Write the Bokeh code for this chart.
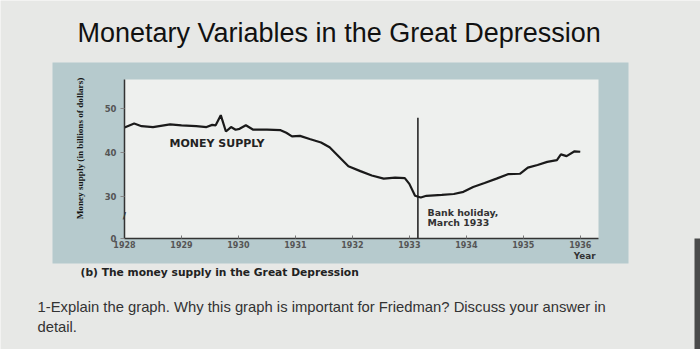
from bokeh.plotting import figure
from bokeh.models import Label, BoxAnnotation, FixedTicker, Range1d
from bokeh.embed import file_html
from bokeh.resources import INLINE

# ---- data ----
years = [1928.0, 1928.17, 1928.3, 1928.5, 1928.8, 1929.0, 1929.26, 1929.44, 1929.54, 1929.6,
         1929.69, 1929.78, 1929.87, 1929.95, 1930.02, 1930.13, 1930.26, 1930.5, 1930.74, 1930.84,
         1930.94, 1931.08, 1931.25, 1931.45, 1931.6, 1931.73, 1931.93, 1932.14, 1932.34, 1932.55,
         1932.75, 1932.92, 1933.0, 1933.1, 1933.2, 1933.3, 1933.57, 1933.78, 1933.95, 1934.12,
         1934.32, 1934.53, 1934.73, 1934.94, 1935.08, 1935.25, 1935.42, 1935.59, 1935.66, 1935.76,
         1935.9, 1936.0]
money_supply = [45.7, 46.6, 46.0, 45.8, 46.4, 46.2, 46.0, 45.8, 46.3, 46.2,
                48.5, 44.8, 45.8, 45.2, 45.4, 46.2, 45.2, 45.2, 45.1, 44.5,
                43.7, 43.8, 43.1, 42.3, 41.2, 39.5, 36.9, 35.8, 34.8, 34.1,
                34.3, 34.2, 32.9, 30.2, 29.8, 30.2, 30.4, 30.6, 31.1, 32.2,
                33.1, 34.1, 35.1, 35.2, 36.6, 37.2, 37.9, 38.3, 39.6, 39.2,
                40.3, 40.2]
x_ticks = [1928, 1929, 1930, 1931, 1932, 1933, 1934, 1935, 1936]
y_ticks = [20.5, 30, 40, 50]
y_tick_labels = {20.5: "0", 30: "30", 40: "40", 50: "50"}
holiday_year = [1933.15]
holiday_bottom = [20.5]
holiday_top = [47.9]
axis_break_value = 25.5

title_text = "Monetary Variables in the Great Depression"
y_label = "Money supply (in billions of dollars)"
caption = "(b) The money supply in the Great Depression"
question_1 = "1-Explain the graph. Why this graph is important for Friedman? Discuss your answer in"
question_2 = "detail."

# ---- layout (pixels) ----
W, H = 700, 349
X0, X1 = 1928.0, 1936.32          # data extent of the white chart area
Y0, Y1 = 20.5, 56.6
PX_LEFT, PX_RIGHT = 124, 598      # chart area in canvas pixels
PX_TOP, PX_BOTTOM = 79, 238

sx = (PX_RIGHT - PX_LEFT) / (X1 - X0)
sy = (PX_BOTTOM - PX_TOP) / (Y1 - Y0)
x_range = Range1d(X0 - PX_LEFT / sx, X1 + (W - PX_RIGHT) / sx)
y_range = Range1d(Y0 - (H - PX_BOTTOM) / sy, Y1 + PX_TOP / sy)

SLIDE = "#e7e8e6"
PANEL = "#b6cacd"
FRAME = "#eef0ee"
INK = "#1a1a1a"

p = figure(width=W, height=H, output_backend="svg", toolbar_location=None,
           x_range=x_range, y_range=y_range,
           min_border_left=0, min_border_right=0, min_border_top=0, min_border_bottom=0)
p.border_fill_color = SLIDE
p.background_fill_color = SLIDE
p.outline_line_color = None
p.xgrid.visible = False
p.ygrid.visible = False

def canvas_box(left, right, top, bottom, color):
    p.add_layout(BoxAnnotation(left=left, right=right, top=top, bottom=bottom,
                               left_units="canvas", right_units="canvas",
                               top_units="canvas", bottom_units="canvas",
                               fill_color=color, fill_alpha=1, line_color=None,
                               level="underlay"))

# slide details, panel and white chart area
canvas_box(694, 700, 238, 349, "#4a4b4b")
canvas_box(52, 628, 62, 263, PANEL)
p.add_layout(BoxAnnotation(left=X0, right=X1, bottom=Y0, top=Y1,
                           fill_color=FRAME, fill_alpha=1, line_color=None, level="underlay"))

# axes, fixed at the chart area's edges
p.xaxis.fixed_location = Y0
p.xaxis.bounds = (X0, X1)
p.xaxis.ticker = FixedTicker(ticks=x_ticks)
p.xaxis.axis_line_color = "#333333"
p.xaxis.axis_line_width = 1.5
p.xaxis.major_tick_in = 3
p.xaxis.major_tick_out = 0
p.xaxis.minor_tick_line_color = None
p.xaxis.major_tick_line_color = "#777777"
p.xaxis.major_label_text_font = "DejaVu Sans"
p.xaxis.major_label_text_font_size = "8px"
p.xaxis.major_label_text_font_style = "bold"
p.xaxis.major_label_text_color = "#555555"
p.xaxis.major_label_standoff = 2

p.yaxis.fixed_location = X0
p.yaxis.bounds = (Y0, Y1)
p.yaxis.ticker = FixedTicker(ticks=y_ticks)
p.yaxis.major_label_overrides = y_tick_labels
p.yaxis.axis_line_color = "#333333"
p.yaxis.axis_line_width = 1.5
p.yaxis.major_tick_in = 0
p.yaxis.major_tick_out = 4
p.yaxis.minor_tick_line_color = None
p.yaxis.major_tick_line_color = "#888888"
p.yaxis.major_label_text_font = "DejaVu Sans"
p.yaxis.major_label_text_font_size = "8.5px"
p.yaxis.major_label_text_font_style = "bold"
p.yaxis.major_label_text_color = "#555555"
p.yaxis.major_label_standoff = 4

# data
p.line(years, money_supply, line_color=INK, line_width=2.2)
p.segment(x0=holiday_year, y0=holiday_bottom, x1=holiday_year, y1=holiday_top,
          line_color=INK, line_width=1.5)

# axis break mark
p.add_layout(Label(x=X0, y=axis_break_value, text="/", text_font="DejaVu Sans",
                   text_font_size="9px", text_font_style="bold", text_color="#333333",
                   text_align="center", text_baseline="middle"))

def canvas_label(x, y, text, size, font="DejaVu Sans", style="normal", color="#222222",
                 align="left", baseline="middle", angle=0):
    p.add_layout(Label(x=x, y=y, x_units="canvas", y_units="canvas", text=text,
                       text_font=font, text_font_size=size, text_font_style=style,
                       text_color=color, text_align=align, text_baseline=baseline,
                       angle=angle, angle_units="deg"))

canvas_label(77, 32, title_text, "27px", font="Liberation Sans", color="#111111",
             baseline="alphabetic")
canvas_label(79, 148, y_label, "9.2px", font="Liberation Serif", style="bold",
             color="#151515", align="center", angle=90)
canvas_label(169, 143, "MONEY SUPPLY", "11px", style="bold", color="#222222")
canvas_label(427, 211.5, "Bank holiday,", "9.4px", style="bold", color="#333333")
canvas_label(427, 221.5, "March 1933", "9.4px", style="bold", color="#333333")
canvas_label(595, 255, "Year", "8.8px", style="bold", color="#333333", align="right")
canvas_label(80, 272, caption, "10.7px", style="bold", color="#222222")
canvas_label(37, 306.5, question_1, "14.8px", font="Liberation Sans", color="#333333")
canvas_label(37, 326.5, question_2, "14.8px", font="Liberation Sans", color="#333333")

open("out.html", "w").write(file_html(p, INLINE))
